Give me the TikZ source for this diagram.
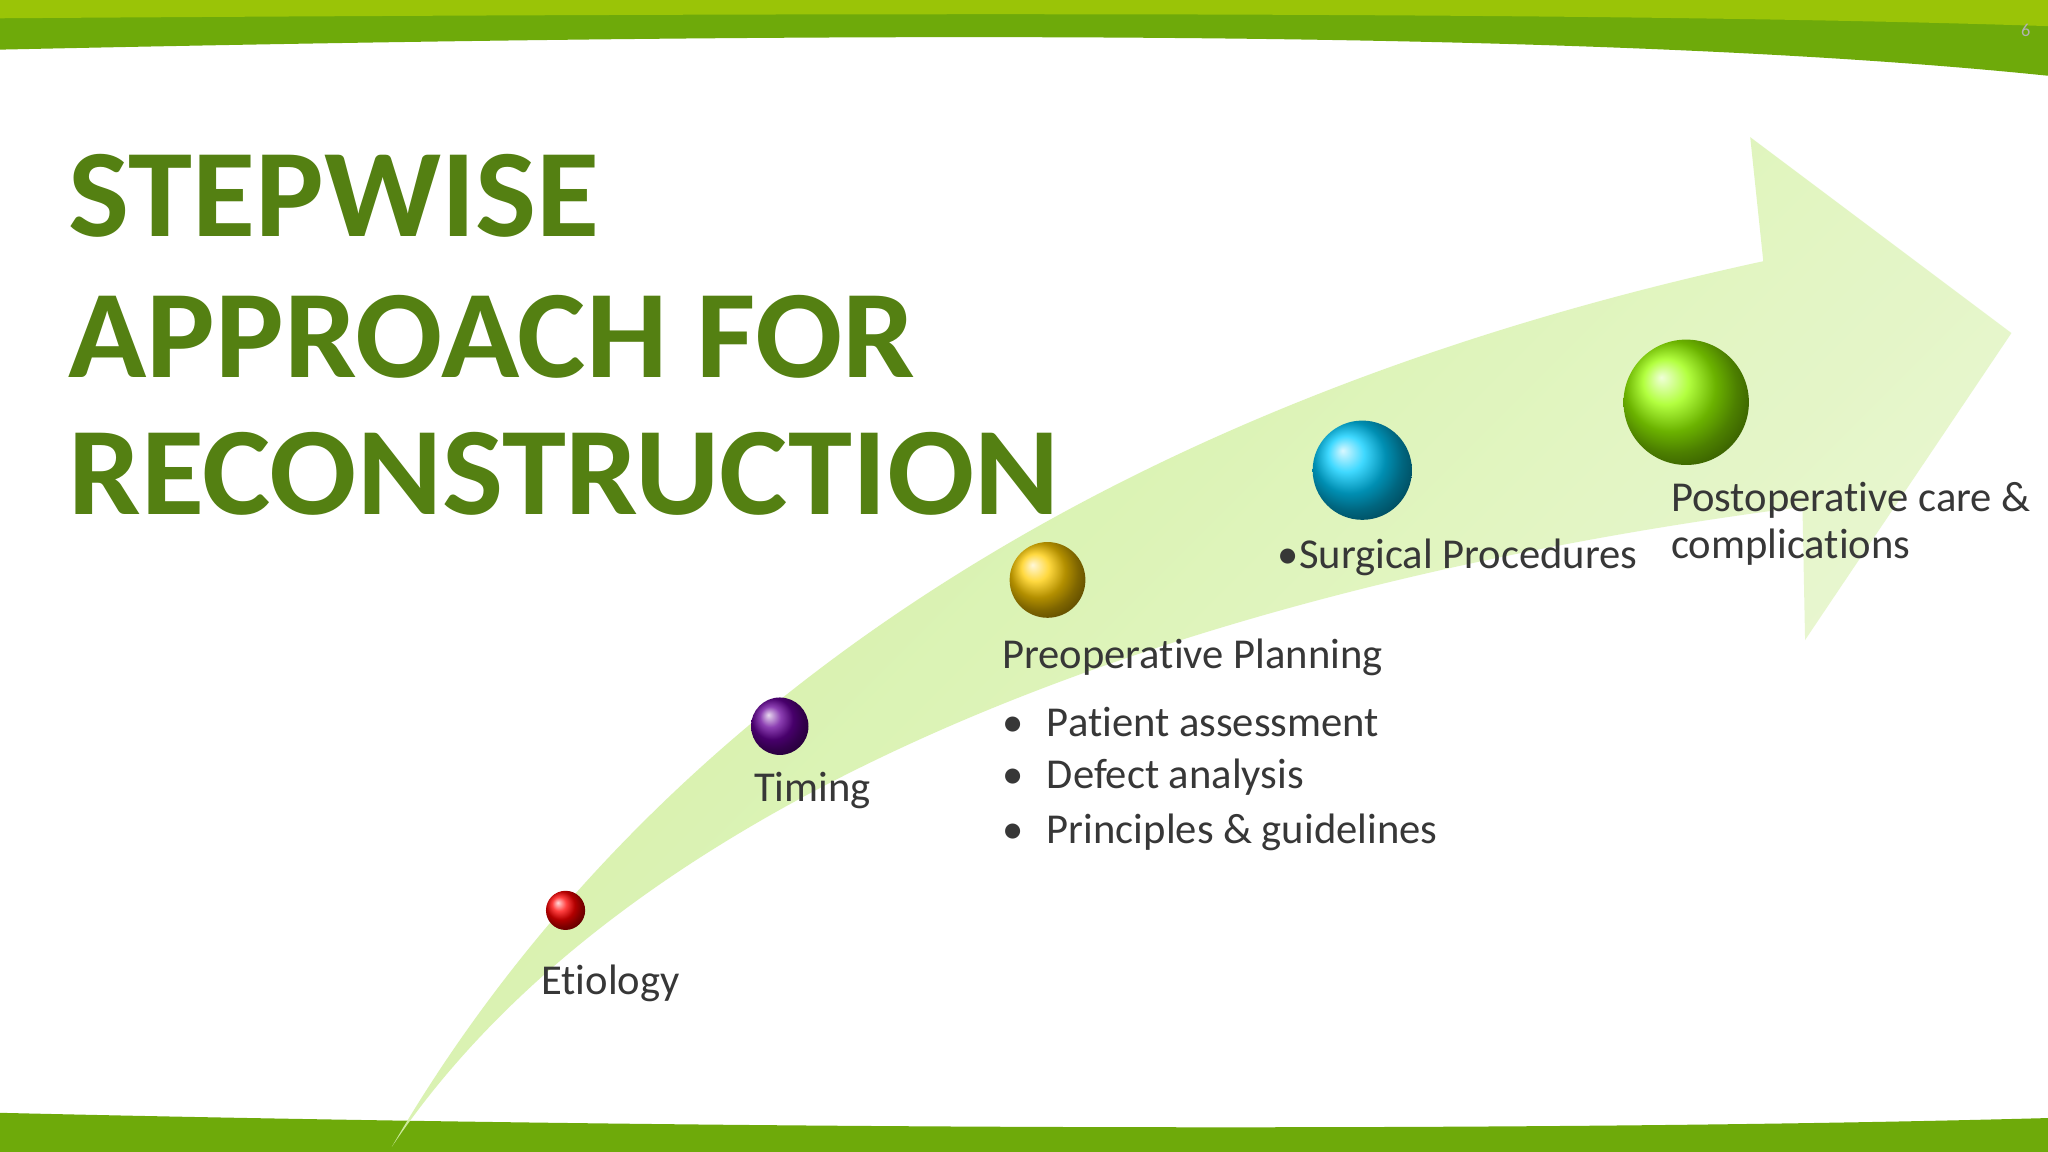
\documentclass[tikz,border=0pt]{standalone}
\usepackage{fontspec}
\setmainfont[Ligatures={NoCommon}]{Carlito}
\definecolor{titlegreen}{RGB}{84,128,18}
\definecolor{bargreen}{RGB}{110,170,10}
\definecolor{bandgreen}{RGB}{205,238,150}
\definecolor{txtgray}{RGB}{55,55,55}
\begin{document}
\begin{tikzpicture}[x=0.5pt,y=-0.5pt,
  title/.style={anchor=west,text=titlegreen,font=\fontsize{48}{48}\selectfont\bfseries,inner sep=0pt,xscale=1.03},
  label/.style={anchor=west,text=txtgray,font=\fontsize{16.3}{18}\selectfont,inner sep=0pt},
  ball/.style={circle,inner sep=0pt,minimum size=#1}]
\useasboundingbox (0,0) rectangle (1568,882);
\fill[white] (0,0) rectangle (1568,882);

% bars
\fill[bargreen] (0,0) -- (1568,0) -- (1568,58) .. controls (1200,20) and (600,25) .. (0,38) -- cycle;
\fill[bargreen!70!yellow] (0,0) -- (1568,0) -- (1568,20) .. controls (1200,8) and (600,10) .. (0,14) -- cycle;
\fill[bargreen] (0,882) -- (0,852) .. controls (600,866) and (1200,866) .. (1568,856) -- (1568,882) -- cycle;
\node[text=gray!60,font=\fontsize{7}{8}\selectfont] (pagenum) at (1551,23) {6};

% arrow band
\shade[top color=bandgreen,bottom color=bandgreen!40,shading angle=45,opacity=0.9]
  (300,878) .. controls (450,620) and (750,330) .. (1350,200)
  -- (1340,105) -- (1540,255) -- (1382,490) -- (1380,388)
  .. controls (900,450) and (480,610) .. (300,878) -- cycle;

% balls
\shade[ball color=red] (433,697) circle (15);
\shade[ball color=violet!80!blue] (597,556) circle (22);
\shade[ball color=orange!40!yellow] (802,444) circle (29);
\shade[ball color=cyan!80!blue] (1043,360) circle (38);
\shade[ball color=lime!80!green] (1291,308) circle (48);

% title
\node[title] (t1) at (52,150) {STEPWISE};
\node[title] (t2) at (52,258) {APPROACH FOR};
\node[title] (t3) at (52,363) {RECONSTRUCTION};

% labels
\node[label] (etiology) at (414,753) {Etiology};
\node[label] (timing) at (577,605) {Timing};
\node[label] (preop) at (767,503) {Preoperative Planning};
\node[label] (b1) at (767,553) {•\hspace{0.55em}Patient assessment};
\node[label] (b2) at (767,595) {•\hspace{0.55em}Defect analysis};
\node[label] (b3) at (767,637) {•\hspace{0.55em}Principles \& guidelines};
\node[label] (surg) at (978,427) {•Surgical Procedures};
\node[label,align=left] (postop) at (1279,401) {Postoperative care \&\\complications};
\end{tikzpicture}
\end{document}
